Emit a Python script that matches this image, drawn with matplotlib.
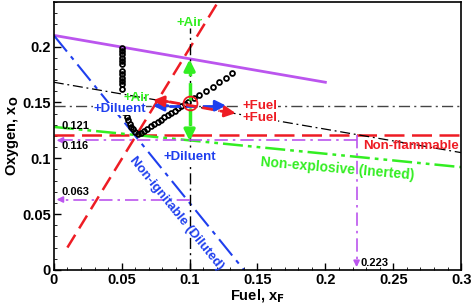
import numpy as np
import matplotlib.pyplot as plt

plt.rcParams['font.family'] = ['Liberation Sans', 'DejaVu Sans']
plt.rcParams['font.weight'] = 'bold'

# boundary lines (fuel, oxygen)
purple_x = [0.0, 0.2]
purple_y = [0.21, 0.168]
dil_x = [0.0, 0.14]          # non-ignitable (diluted)
dil_y = [0.21, 0.0]
red_x = [0.01, 0.121]        # steep flammability limit
red_y = [0.02, 0.24]
flam_y = 0.121               # non-flammable
inert_x = [0.0, 0.3]         # non-explosive (inerted)
inert_y = [0.128, 0.092]
blk_x = [0.0, 0.3]
blk_y = [0.168, 0.105]
oper_x = 0.1
oper_y = 0.147
mark_116 = 0.116
mark_063 = 0.063
mark_223 = 0.223

# measured points
pts_x = ([0.05] * 12 +
         [0.052, 0.054, 0.055, 0.056, 0.057, 0.058, 0.060, 0.062, 0.064,
          0.0665, 0.069, 0.0715, 0.074, 0.0765, 0.079, 0.0815, 0.084, 0.0865,
          0.089, 0.0915, 0.094, 0.0965, 0.099, 0.103, 0.107, 0.112, 0.117,
          0.122, 0.127, 0.131])
pts_y = ([0.199, 0.196, 0.193, 0.190, 0.187, 0.184, 0.178, 0.175, 0.172,
          0.169, 0.166, 0.162] +
         [0.141, 0.137, 0.134, 0.131, 0.128, 0.126, 0.1235, 0.122, 0.1225,
          0.1245, 0.1265, 0.1285, 0.1305, 0.1325, 0.1345, 0.1365, 0.1385,
          0.1405, 0.1425, 0.1445, 0.1465, 0.1485, 0.1505, 0.154, 0.157,
          0.160, 0.164, 0.168, 0.172, 0.176])

c_purple = '#bb55ee'
c_red = '#ee1c24'
c_green = '#33ee22'
c_blue = '#1f3fee'

fig = plt.figure(figsize=(4.72, 3.06), dpi=100)
ax = fig.add_axes([0.114, 0.118, 0.863, 0.876])

ax.plot(purple_x, purple_y, color=c_purple, lw=2)
ax.plot(dil_x, dil_y, color=c_blue, lw=1.5, ls=(0, (10, 3, 2, 3)))
ax.plot(red_x, red_y, color=c_red, lw=1.8, ls=(0, (6, 3)))
ax.plot([0, 0.3], [flam_y, flam_y], color=c_red, lw=1.8, ls=(0, (8, 3)))
ax.plot(inert_x, inert_y, color=c_green, lw=1.8, ls=(0, (8, 2, 1.5, 2, 1.5, 2)))
ax.plot(blk_x, blk_y, color='k', lw=0.9, ls=(0, (8, 3, 1.5, 3)))
ax.plot([0, 0.3], [oper_y, oper_y], color='#444444', lw=1, ls=(0, (8, 3, 1.5, 3)))
ax.plot([oper_x, oper_x], [0, 0.217], color='k', lw=1, ls=(0, (8, 3, 1.5, 3)))

# purple read-off lines with arrows
pline = dict(color=c_purple, lw=1.2, ls=(0, (8, 3, 1.5, 3)))
ax.plot([mark_223, 0.004], [mark_116, mark_116], **pline)
ax.plot([oper_x, 0.004], [mark_063, mark_063], **pline)
ax.plot([mark_223, mark_223], [flam_y, 0.004], **pline)
hp = dict(arrowstyle='-|>', color=c_purple, lw=1.2, mutation_scale=9)
ax.annotate('', xy=(0.0, mark_116), xytext=(0.008, mark_116), arrowprops=hp)
ax.annotate('', xy=(0.0, mark_063), xytext=(0.008, mark_063), arrowprops=hp)
ax.annotate('', xy=(mark_223, 0.0), xytext=(mark_223, 0.009), arrowprops=hp)

ax.plot(pts_x, pts_y, 'o', mfc='none', mec='k', mew=1.3, ms=3.5)

# operating point arrows
ax.plot([oper_x, oper_x], [0.152, 0.18], color=c_green, lw=2.5, ls=(0, (5, 2, 1, 2)))
ax.plot([oper_x, oper_x], [0.145, 0.125], color=c_green, lw=2.5, ls=(0, (5, 2, 1, 2)))
hg = dict(arrowstyle='-|>', color=c_green, lw=2.5, mutation_scale=16)
ax.annotate('', xy=(oper_x, 0.191), xytext=(oper_x, 0.178), arrowprops=hg)
ax.annotate('', xy=(oper_x, 0.113), xytext=(oper_x, 0.127), arrowprops=hg)

ax.plot([0.085, 0.118], [oper_y, oper_y], color=c_blue, lw=2, ls=(0, (4, 2)))
hb = dict(arrowstyle='-|>', color=c_blue, lw=2, mutation_scale=16)
ax.annotate('', xy=(0.071, oper_y), xytext=(0.086, oper_y), arrowprops=hb)
ax.annotate('', xy=(0.129, oper_y), xytext=(0.116, oper_y), arrowprops=hb)

ax.plot([0.085, 0.122], [0.1505, 0.1425], color=c_red, lw=2, ls=(0, (4, 2)))
hr = dict(arrowstyle='-|>', color=c_red, lw=2, mutation_scale=16)
ax.annotate('', xy=(0.071, 0.152), xytext=(0.086, 0.1505), arrowprops=hr)
ax.annotate('', xy=(0.136, 0.140), xytext=(0.121, 0.1425), arrowprops=hr)
ax.plot([oper_x], [0.149], 'o', mfc='none', mec=c_red, mew=1.3, ms=10)

# labels
ax.text(oper_x, 0.221, '+Air', color=c_green, ha='center', va='center', fontsize=9.5)
ax.text(0.051, 0.154, '+Air', color=c_green, ha='left', va='center', fontsize=9.5)
ax.text(0.0485, 0.144, '+Diluent', color=c_blue, ha='center', va='center',
        fontsize=9.5, bbox=dict(fc='white', ec='none', pad=0.3))
ax.text(oper_x, 0.101, '+Diluent', color=c_blue, ha='center', va='center',
        fontsize=9.5, bbox=dict(fc='white', ec='none', pad=0.3))
ax.text(0.139, 0.147, '+Fuel', color=c_red, ha='left', va='center', fontsize=9.5,
        bbox=dict(fc='white', ec='none', pad=0.5))
ax.text(0.139, 0.136, '+Fuel', color=c_red, ha='left', va='center', fontsize=9.5,
        bbox=dict(fc='white', ec='none', pad=0.5))
ax.text(0.298, 0.111, 'Non-flammable', color=c_red, ha='right', va='center', fontsize=9.5)
ax.text(0.209, 0.091, 'Non-explosive (Inerted)', color=c_green, ha='center',
        va='center', fontsize=10, rotation=-5)
ax.text(0.0905, 0.0505, 'Non-ignitable (Diluted)', color=c_blue, ha='center',
        va='center', fontsize=9.5, rotation=-51)
ax.text(0.006, 0.1285, '0.121', color='k', ha='left', va='center', fontsize=8)
ax.text(0.006, 0.1105, '0.116', color='k', ha='left', va='center', fontsize=8)
ax.text(0.006, 0.0695, '0.063', color='k', ha='left', va='center', fontsize=8)
ax.text(0.226, 0.006, '0.223', color='k', ha='left', va='center', fontsize=8)

ax.set_xlim(0, 0.3)
ax.set_ylim(0, 0.24)
ax.set_xticks([0, 0.05, 0.1, 0.15, 0.2, 0.25, 0.3])
ax.set_xticklabels(['0', '0.05', '0.1', '0.15', '0.2', '0.25', '0.3'])
ax.set_yticks([0, 0.05, 0.1, 0.15, 0.2])
ax.set_yticklabels(['0', '0.05', '0.1', '0.15', '0.2'])
ax.set_xticks(np.arange(0, 0.301, 0.01), minor=True)
ax.set_yticks(np.arange(0, 0.241, 0.01), minor=True)
ax.tick_params(which='both', direction='in', labelsize=10.5, pad=2)
ax.tick_params(which='major', length=5, width=1)
ax.tick_params(which='minor', length=2.5, width=0.6)
for s in ax.spines.values():
    s.set_linewidth(1.2)
ax.set_xlabel('Fuel, x$_\\mathbf{F}$', fontsize=10.5, fontweight='bold', labelpad=1)
ax.set_ylabel('Oxygen, x$_\\mathbf{O}$', fontsize=10.5, fontweight='bold', labelpad=1)

fig.savefig('out.png', dpi=100)
